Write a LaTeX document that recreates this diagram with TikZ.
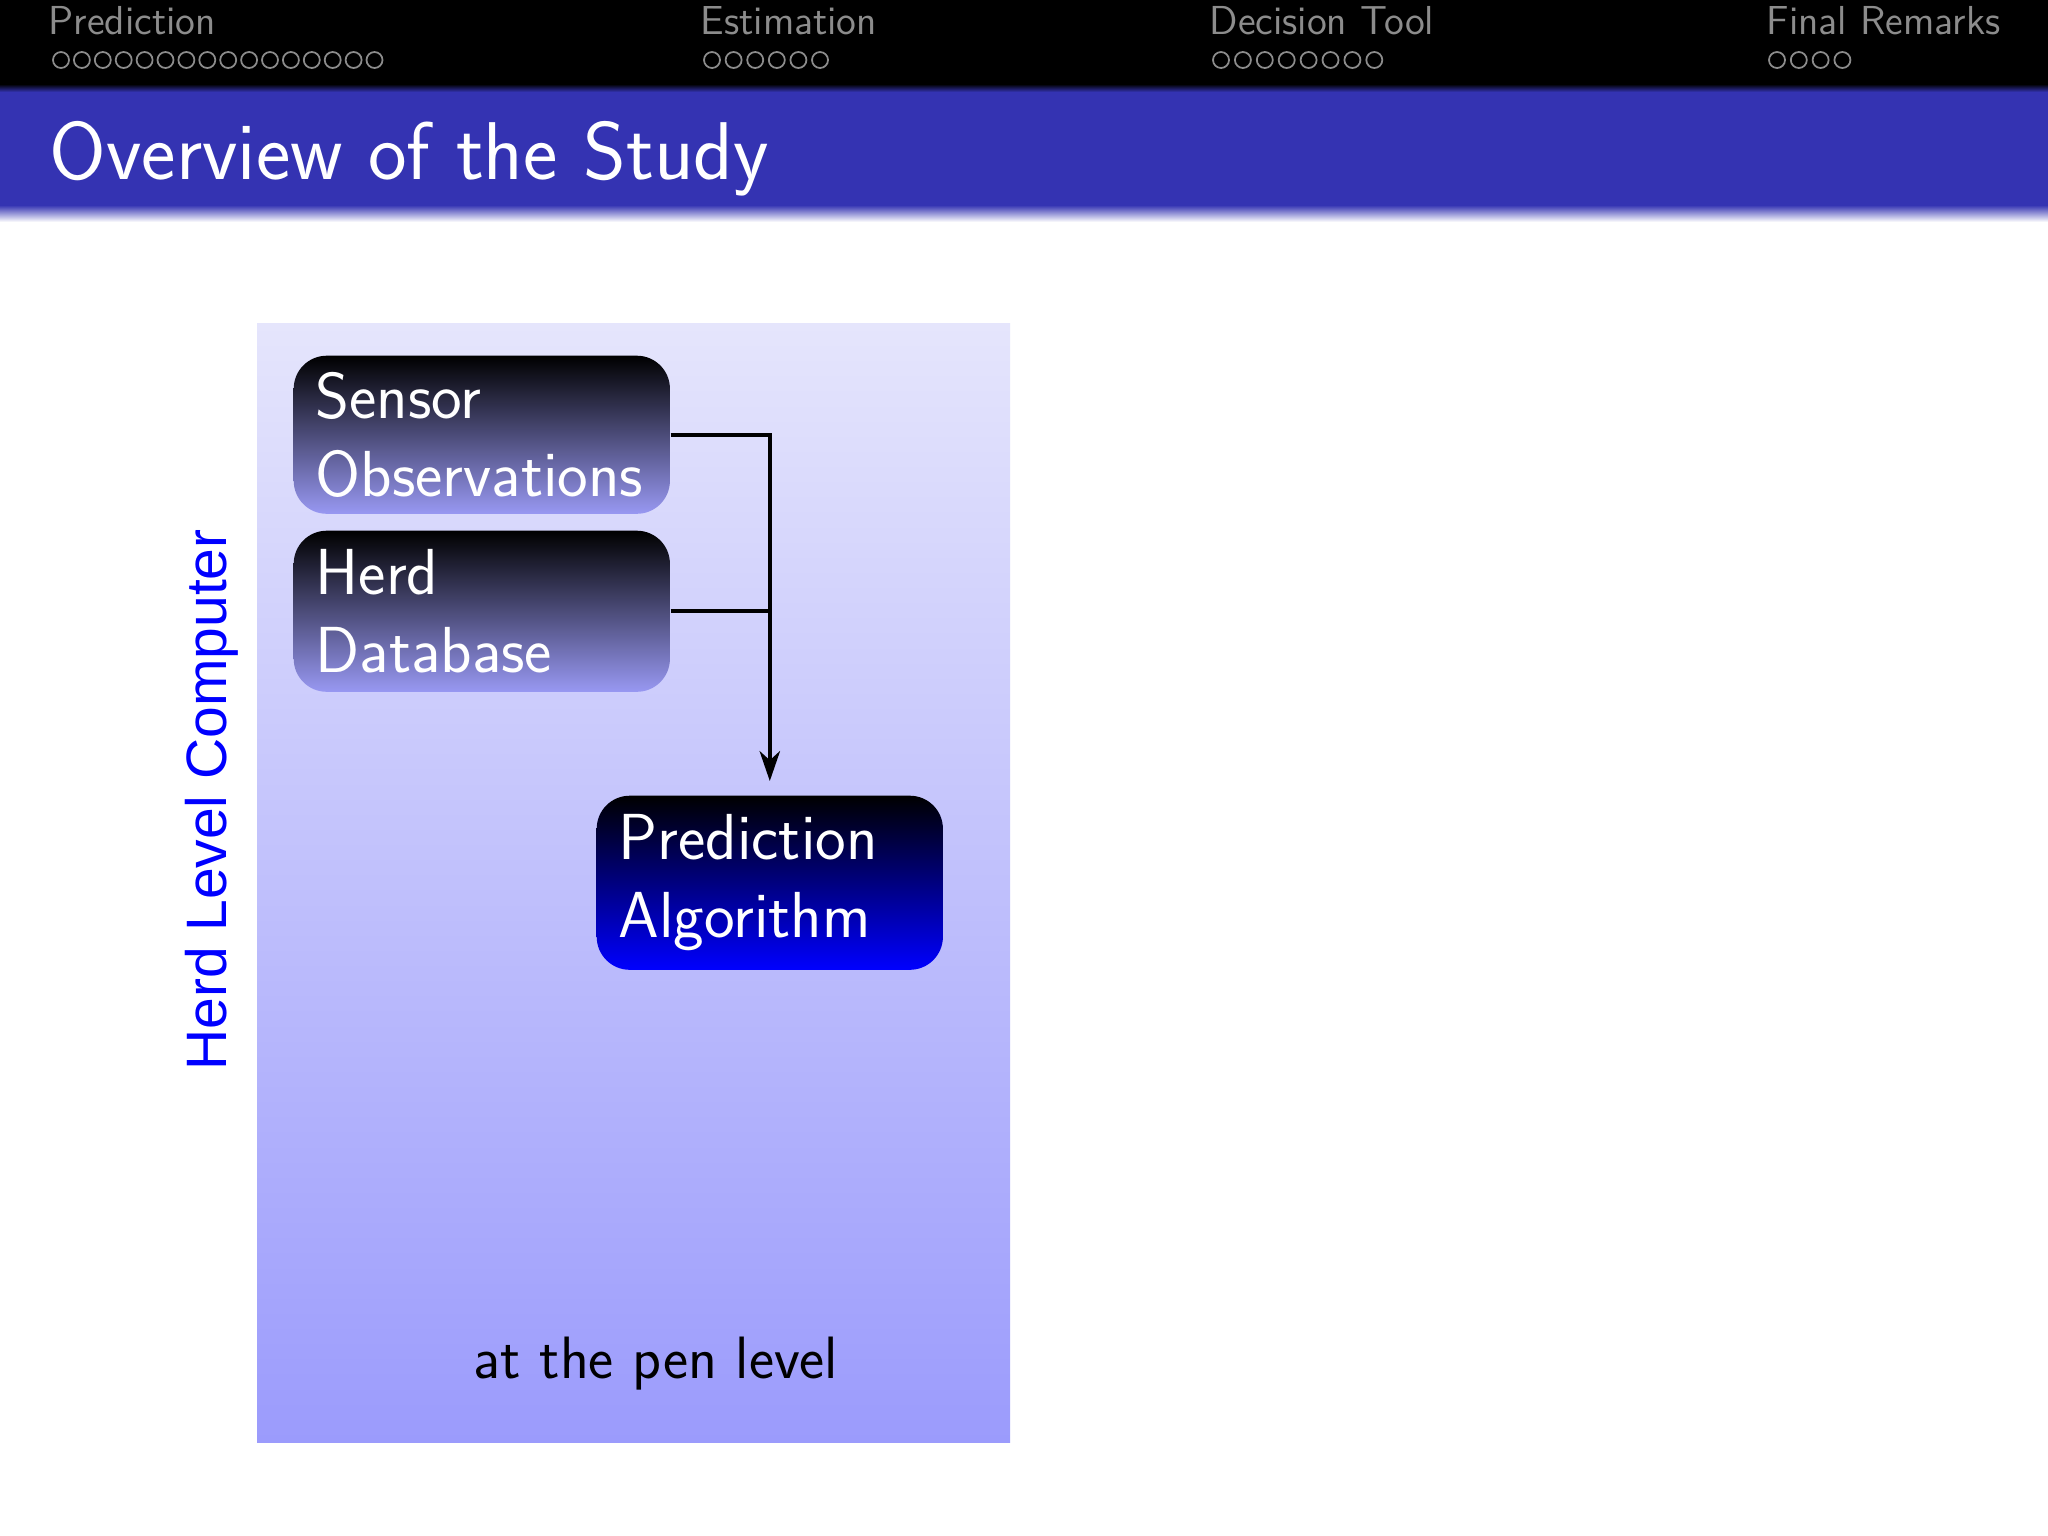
\documentclass[tikz,border=0pt]{standalone}
\usepackage{fontspec}
\newfontfamily\arialf{Liberation Sans}
\usetikzlibrary{arrows.meta}
\definecolor{hbar}{RGB}{52,51,178}
\definecolor{navgray}{RGB}{140,140,140}
\definecolor{paneltop}{RGB}{229,229,252}
\definecolor{panelbot}{RGB}{155,155,252}
\definecolor{boxbot}{RGB}{152,152,242}
\tikzset{
  navtext/.style={text=navgray, font=\sffamily\fontsize{11.5}{13}\selectfont, anchor=base west, inner sep=0pt},
  navdot/.style={draw=navgray, line width=0.5pt},
  darkbox/.style={rounded corners=0.33cm, top color=black, bottom color=boxbot, text=white, align=left,
     inner xsep=0.22cm, inner ysep=0pt, font=\sffamily\fontsize{18.5}{22.2}\selectfont, anchor=north west},
  bluebox/.style={darkbox, bottom color=blue},
  link/.style={line width=1.1pt, black}
}
\begin{document}
\begin{tikzpicture}[x=0.01cm,y=-0.01cm]
\useasboundingbox (0,0) rectangle (2048,1536);
\fill[white] (0,0) rectangle (2048,1536);
% header
\fill[black] (0,0) rectangle (2048,85);
\shade[top color=black, bottom color=hbar] (0,84) rectangle (2048,92);
\fill[hbar] (0,92) rectangle (2048,205);
\shade[top color=hbar, bottom color=white] (0,205) rectangle (2048,222);
% navigation
\node[navtext] (nav1) at (48,34) {Prediction};
\node[navtext] (nav2) at (700,34) {Estimation};
\node[navtext] (nav3) at (1209,34) {Decision Tool};
\node[navtext] (nav4) at (1766,34) {Final Remarks};
\foreach \i in {0,...,15} \draw[navdot] (61+\i*20.9,60) circle (8);
\foreach \i in {0,...,5} \draw[navdot] (712+\i*21.6,60) circle (8);
\foreach \i in {0,...,7} \draw[navdot] (1221+\i*21.9,60) circle (8);
\foreach \i in {0,...,3} \draw[navdot] (1777+\i*21.8,60) circle (8);
% title
\node[text=white, font=\sffamily\fontsize{23.3}{28}\selectfont, anchor=base west, inner sep=0pt] (title) at (49,179) {Overview of the Study};
% panel
\shade[top color=paneltop, bottom color=panelbot] (257,323) rectangle (1010,1442);
\node[rotate=90, text=blue, font=\arialf\fontsize{16.2}{19}\selectfont, inner sep=0pt] (hlc) at (212,800) {Herd Level Computer};
% boxes
\node[darkbox, text width=3.32cm, minimum height=1.58cm] (sensor) at (293,355) {Sensor\\Observations};
\node[darkbox, text width=3.32cm, minimum height=1.61cm] (herd) at (293,530) {Herd\\Database};
\node[bluebox, text width=3.02cm, minimum height=1.74cm] (pred) at (596,795) {Prediction\\Algorithm};
% connectors
\draw[link] (herd.east) -- (herd.east -| pred.north);
\draw[link, -{Stealth[length=8.5pt,width=5.8pt,inset=2.6pt]}, shorten >=0.14cm] (sensor.east) -| (pred.north);
% label
\node[font=\sffamily\fontsize{17}{20}\selectfont, anchor=base, inner sep=0pt] (pen) at (656,1378) {at the pen level};
\end{tikzpicture}
\end{document}
